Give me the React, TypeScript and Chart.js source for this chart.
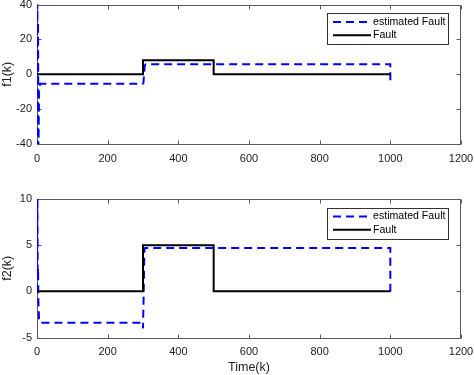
import { useEffect, useRef } from 'react';
import { Chart, registerables } from 'chart.js';

Chart.register(...registerables);

// ---- data ----
const faultK = [0, 300, 300, 500, 500, 1000];
const fault1 = [0, 0, 8, 8, 0, 0];
const fault2 = [0, 0, 5, 5, 0, 0];

const est1K = [0, 1, 2, 3, 4, 6, 9, 298, 301, 303, 305, 308, 1000, 1000];
const est1 = [0, 48, -48, 30, -45, -8, -5.5, -5.5, -5.2, 0, 5.0, 5.7, 5.7, -5];

const est2K = [0, 1, 2, 3, 4, 6, 9, 298, 300, 302, 304, 306, 1000, 1000];
const est2 = [0, 12, 1.5, 2.5, -1, -3.2, -3.4, -3.4, -4.0, 0, 4.5, 4.7, 4.7, -0.5];

const xRange = [0, 1200];
const xStep = 200;
const y1Range = [-40, 40];
const y1Step = 20;
const y2Range = [-5, 10];
const y2Step = 5;

const seriesLabels = ['estimated Fault', 'Fault'];
const yTitles = ['f1(k)', 'f2(k)'];
const xTitle = 'Time(k)';

const FONT = "'Liberation Sans', Arial, Helvetica, sans-serif";

const toPts = (xs: number[], ys: number[]) => xs.map((x, i) => ({ x, y: ys[i] }));

const px = (v: number) => Math.round(v) + 0.5;

const boxTicks = {
  id: 'boxTicks',
  beforeDatasetsDraw(chart: any) {
    const { ctx, chartArea, scales } = chart;
    const { left, right, top, bottom } = chartArea;
    const L = px(left), R = px(right) - 1, T = px(top), B = px(bottom);
    ctx.save();
    ctx.strokeStyle = '#5a5a5a';
    ctx.lineWidth = 1;
    ctx.strokeRect(L, T, R - L, B - T);
    ctx.beginPath();
    scales.x.ticks.forEach((t: any) => {
      const p = px(scales.x.getPixelForValue(t.value));
      ctx.moveTo(p, B); ctx.lineTo(p, B - 4);
      ctx.moveTo(p, T); ctx.lineTo(p, T + 4);
    });
    scales.y.ticks.forEach((t: any) => {
      const p = px(scales.y.getPixelForValue(t.value));
      ctx.moveTo(L, p); ctx.lineTo(L + 4, p);
      ctx.moveTo(R, p); ctx.lineTo(R - 4, p);
    });
    ctx.stroke();
    ctx.restore();
  },
};

const boxLegend = {
  id: 'boxLegend',
  afterDatasetsDraw(chart: any) {
    const { ctx, chartArea } = chart;
    const right = chartArea.right - 13;
    const left = chartArea.right - 134;
    const top = chartArea.top + 8.5;
    const bottom = chartArea.top + 39;
    ctx.save();
    ctx.fillStyle = '#ffffff';
    ctx.fillRect(left, top, right - left, bottom - top);
    ctx.strokeStyle = '#333333';
    ctx.lineWidth = 1;
    ctx.strokeRect(Math.round(left) + 0.5, Math.round(top) + 0.5, Math.round(right - left), Math.round(bottom - top));
    chart.data.datasets.forEach((ds: any, i: number) => {
      const y = top + 9 + i * 13.3;
      ctx.strokeStyle = ds.borderColor;
      ctx.lineWidth = ds.borderWidth;
      ctx.setLineDash(ds.borderDash || []);
      ctx.beginPath();
      ctx.moveTo(left + 6, y);
      ctx.lineTo(left + 44, y);
      ctx.stroke();
      ctx.setLineDash([]);
      ctx.fillStyle = '#000000';
      ctx.font = `10.6px ${FONT}`;
      ctx.textBaseline = 'middle';
      ctx.textAlign = 'left';
      ctx.fillText(ds.label, left + 46, y);
    });
    ctx.restore();
  },
};

function makeConfig(
  est: { x: number; y: number }[],
  fault: { x: number; y: number }[],
  yRange: number[],
  yStep: number,
  yTitle: string,
  padTop: number,
  xAxisHeight: number,
  showXTitle: boolean
): any {
  return {
    type: 'line',
    data: {
      datasets: [
        {
          label: seriesLabels[0],
          data: est,
          borderColor: '#0000ff',
          borderWidth: 2,
          borderDash: [8, 5],
          pointRadius: 0,
          tension: 0,
          fill: false,
          order: 2,
        },
        {
          label: seriesLabels[1],
          data: fault,
          borderColor: '#000000',
          borderWidth: 2,
          pointRadius: 0,
          tension: 0,
          fill: false,
          order: 1,
        },
      ],
    },
    options: {
      responsive: false,
      animation: false,
      events: [],
      layout: { padding: { top: padTop, right: 13, bottom: 0, left: 0 } },
      plugins: {
        legend: { display: false },
        tooltip: { enabled: false },
      },
      scales: {
        x: {
          type: 'linear',
          min: xRange[0],
          max: xRange[1],
          grid: { display: false, drawTicks: false },
          border: { display: false },
          ticks: {
            stepSize: xStep,
            autoSkip: false,
            maxRotation: 0,
            padding: 8,
            color: '#222222',
            font: { family: FONT, size: 11 },
            callback: (v: any) => String(v),
          },
          title: {
            display: showXTitle,
            text: xTitle,
            color: '#222222',
            font: { family: FONT, size: 12.5 },
            padding: { top: 1.5, bottom: 0 },
          },
          afterFit(scale: any) {
            scale.height = xAxisHeight;
            scale.paddingLeft = 0;
            scale.paddingRight = 0;
          },
        },
        y: {
          type: 'linear',
          min: yRange[0],
          max: yRange[1],
          grid: { display: false, drawTicks: false },
          border: { display: false },
          ticks: {
            stepSize: yStep,
            autoSkip: false,
            padding: 5,
            color: '#222222',
            font: { family: FONT, size: 11 },
            callback: (v: any) => String(v),
          },
          title: {
            display: true,
            text: yTitle,
            color: '#222222',
            font: { family: FONT, size: 12.5 },
            padding: { top: 0, bottom: 0 },
          },
          afterFit(scale: any) {
            scale.width = 37;
            scale.paddingTop = 0;
            scale.paddingBottom = 0;
          },
        },
      },
    },
    plugins: [boxTicks, boxLegend],
  };
}

export default function App() {
  const ref1 = useRef<HTMLCanvasElement>(null);
  const ref2 = useRef<HTMLCanvasElement>(null);

  useEffect(() => {
    const c1 = new Chart(
      ref1.current as HTMLCanvasElement,
      makeConfig(toPts(est1K, est1), toPts(faultK, fault1), y1Range, y1Step, yTitles[0], 4.5, 41, false)
    );
    const c2 = new Chart(
      ref2.current as HTMLCanvasElement,
      makeConfig(toPts(est2K, est2), toPts(faultK, fault2), y2Range, y2Step, yTitles[1], 14, 37.5, true)
    );
    return () => {
      c1.destroy();
      c2.destroy();
    };
  }, []);

  return (
    <div style={{ position: 'absolute', left: 0, top: 0, width: 474, height: 375, background: '#fff' }}>
      <canvas ref={ref1} width={474} height={185} style={{ display: 'block', width: 474, height: 185 }} />
      <canvas ref={ref2} width={474} height={190} style={{ display: 'block', width: 474, height: 190 }} />
    </div>
  );
}
